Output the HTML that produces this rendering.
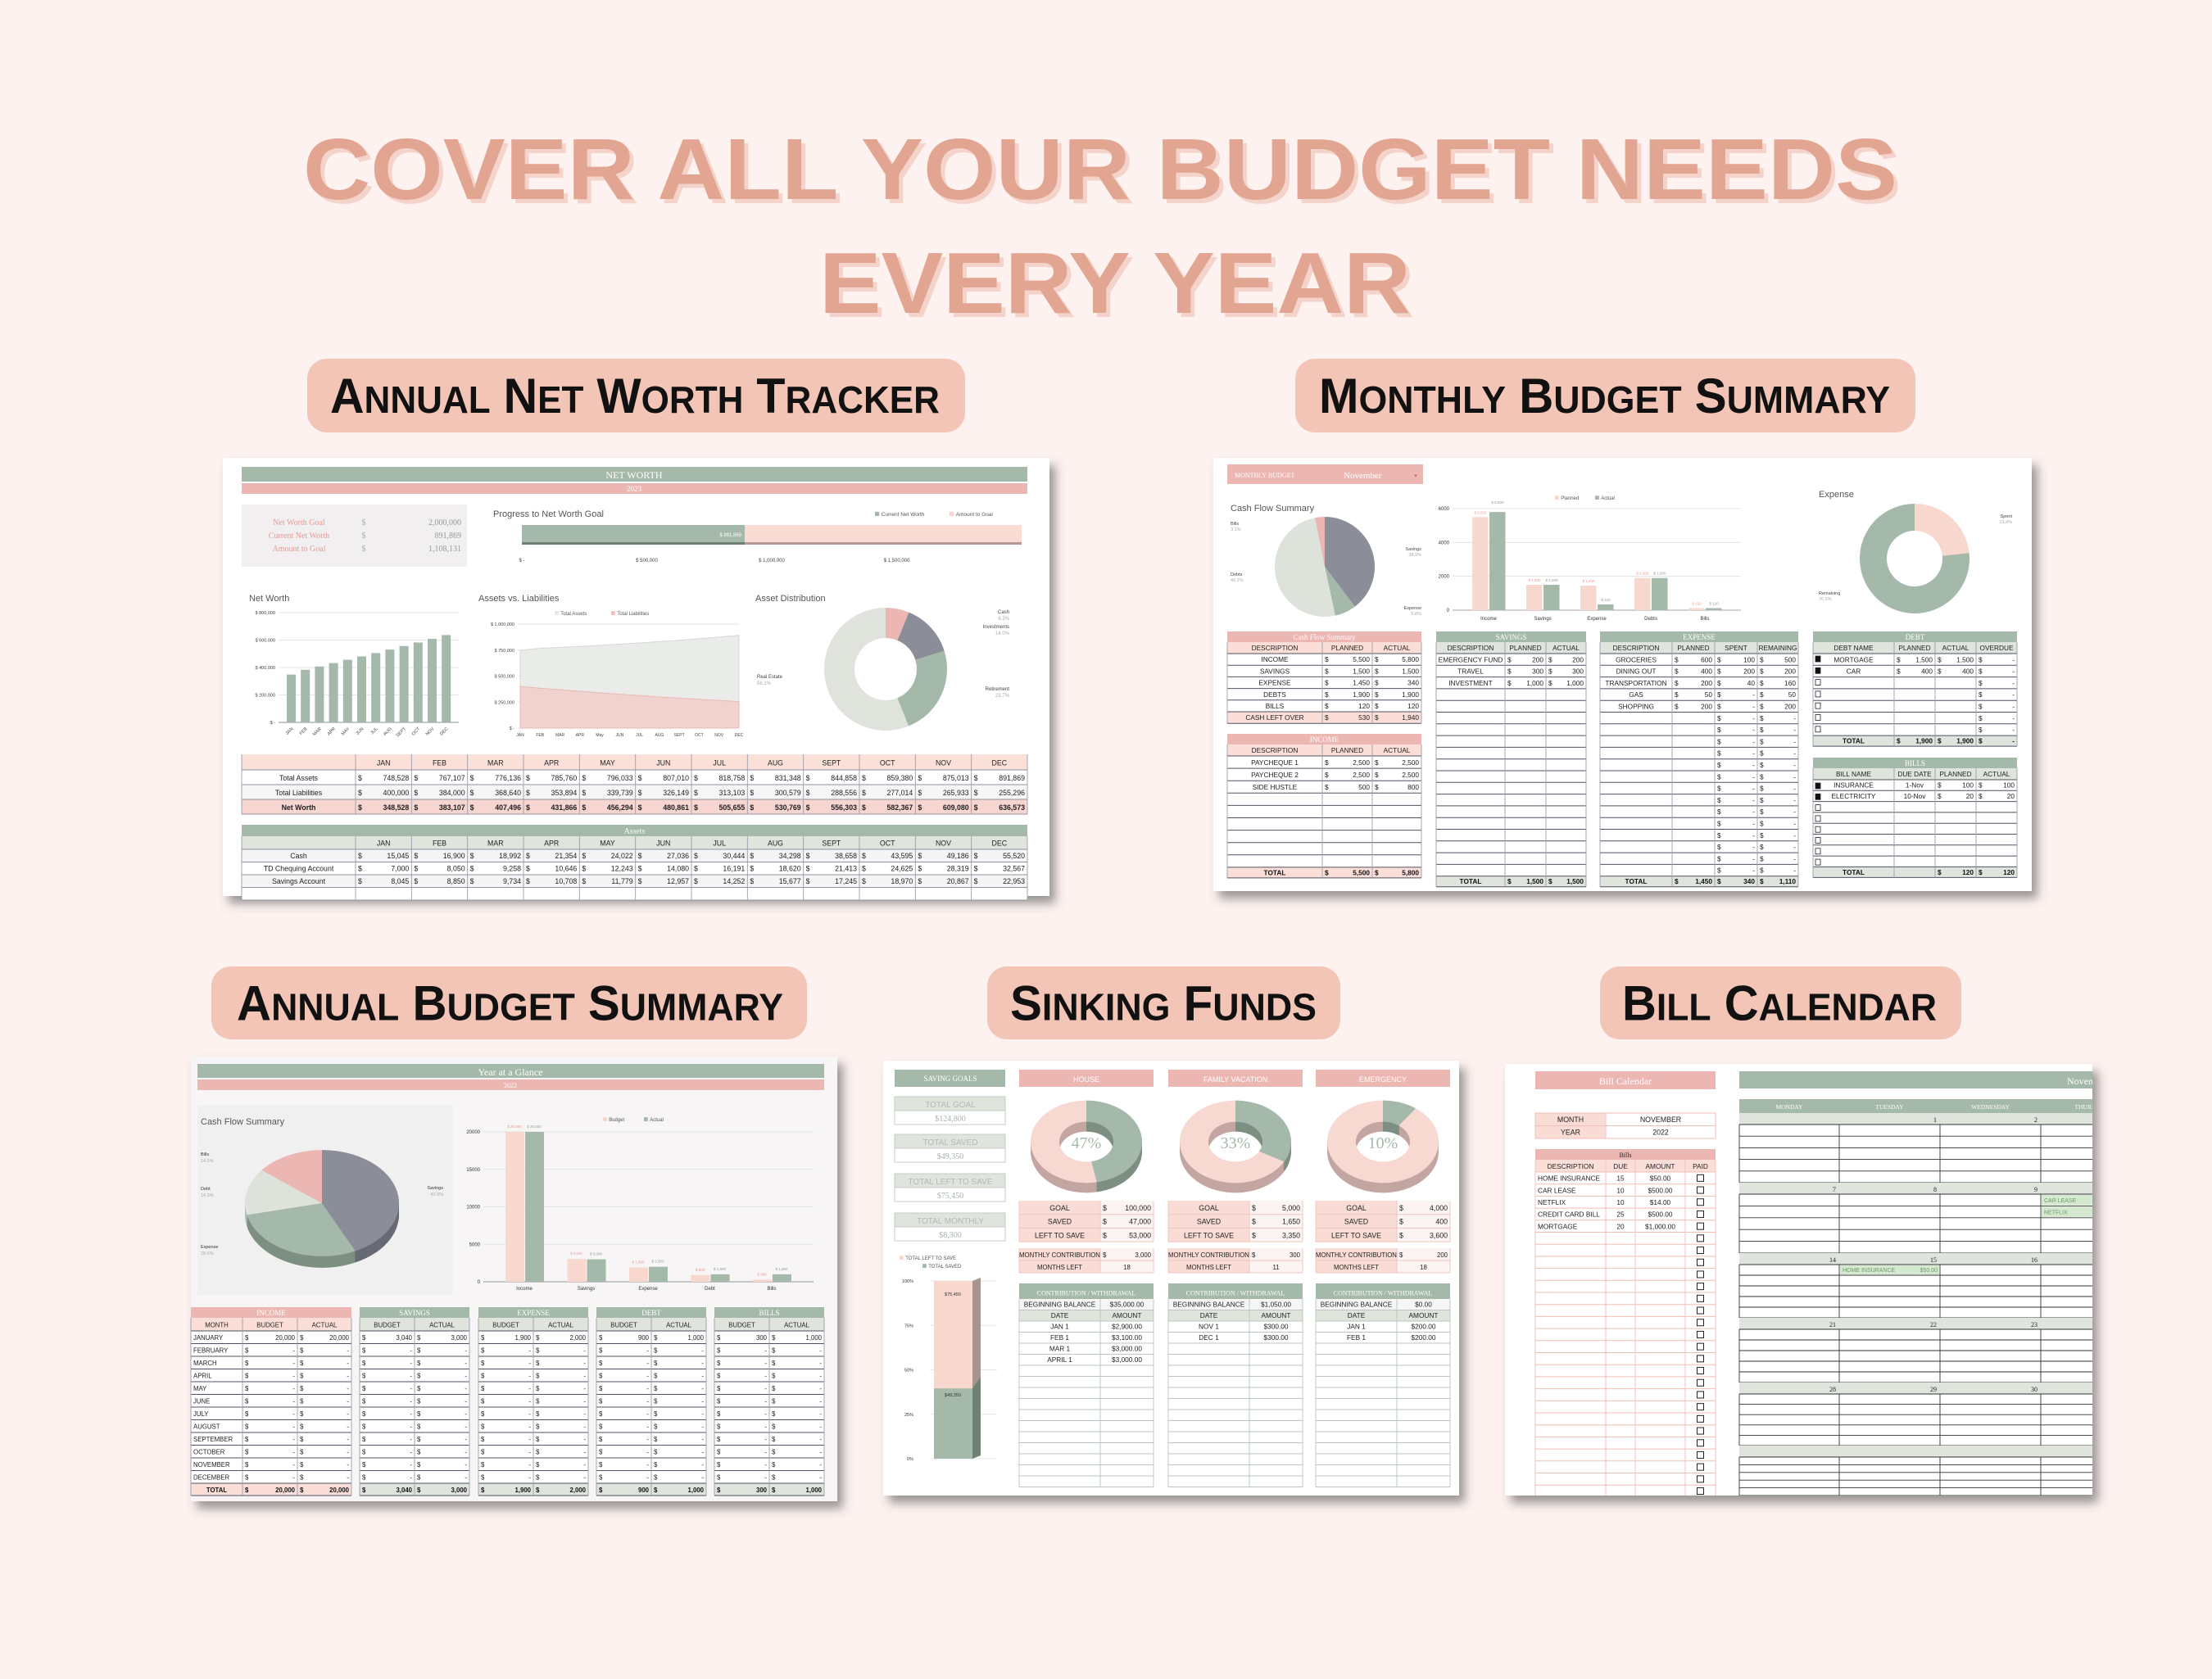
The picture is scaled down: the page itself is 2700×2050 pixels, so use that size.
<!DOCTYPE html>
<html><head><meta charset="utf-8"><title>Budget planner cover</title>
<style>
html,body{margin:0;padding:0;background:#fdf2ef;}
svg{display:block;}
text{font-family:"Liberation Sans",sans-serif;}
.nar{font-family:"Liberation Sans Narrow","Liberation Sans",sans-serif;}
.ser{font-family:"Liberation Serif",serif;}
</style></head>
<body>
<svg id="root" xmlns="http://www.w3.org/2000/svg" width="2700" height="2050" viewBox="0 0 2700 2050">
<defs>
<filter id="sh" x="-5%" y="-5%" width="115%" height="120%"><feDropShadow dx="7" dy="9" stdDeviation="6" flood-color="#4a4a4a" flood-opacity="0.55"/></filter>
<clipPath id="calclip"><rect x="1837" y="1299" width="717" height="527"/></clipPath>
</defs>
<rect x="0" y="0" width="2700" height="2050" fill="#fdf2ef"/>
</svg>
<script>
// ---------- data ----------
const nwMonths=['JAN','FEB','MAR','APR','MAY','JUN','JUL','AUG','SEPT','OCT','NOV','DEC'];
const nwAxisMonths=['JAN','FEB','MAR','APR','May','JUN','JUL','AUG','SEPT','OCT','NOV','DEC'];
const nwAssets=[748528,767107,776136,785760,796033,807010,818758,831348,844858,859380,875013,891869];
const nwLiab=[400000,384000,368640,353894,339739,326149,313103,300579,288556,277014,265933,255296];
const nwNet=[348528,383107,407496,431866,456294,480861,505655,530769,556303,582367,609080,636573];
const nwCash=[15045,16900,18992,21354,24022,27036,30444,34298,38658,43595,49186,55520];
const nwChequing=[7000,8050,9258,10646,12243,14080,16191,18620,21413,24625,28319,32567];
const nwSavings=[8045,8850,9734,10708,11779,12957,14252,15677,17245,18970,20867,22953];
const nwGoal=2000000, nwCurrent=891869;
const nwNetTicks=[0,200000,400000,600000,800000];
const nwAvlTicks=[0,250000,500000,750000,1000000];
const nwProgTicks=[0,500000,1000000,1500000];
const distLabels=['Cash','Investments','Retirement','Real Estate'];
const distValues=[6.2,14.0,23.7,56.1];

const mbCats=['Income','Savings','Expense','Debts','Bills'];
const mbPlanned=[5500,1500,1450,1900,120];
const mbActual=[5800,1500,340,1900,120];
const mbTicks=[0,2000,4000,6000];
const mbPieLabels=['Savings','Expense','Debts','Bills'];
const mbPieValues=[38.9,6.8,49.2,3.1];
const mbExpLabels=['Spent','Remaining'];
const mbExpValues=[23.4,76.6];

const abCats=['Income','Savings','Expense','Debt','Bills'];
const abBudget=[20000,3040,1900,900,300];
const abActual=[20000,3000,2000,1000,1000];
const abTicks=[0,5000,10000,15000,20000];
const abPieLabels=['Savings','Expense','Debt','Bills'];
const abPieValues=[42.9,28.6,14.3,14.3];

const sfNames=['HOUSE','FAMILY VACATION','EMERGENCY'];
const sfGoal=[100000,5000,4000];
const sfSaved=[47000,1650,400];
const sfMonthly=[3000,300,200];
const sfMonthsLeft=[18,11,18];
const sfBegin=['$35,000.00','$1,050.00','$0.00'];
const sfTotalSaved=49350, sfTotalLeft=75450;
const sfPctTicks=[0,25,50,75,100];

// ---------- helpers ----------
const NS='http://www.w3.org/2000/svg';
const svg=document.getElementById('root');
function mk(p,tag,a,t){const e=document.createElementNS(NS,tag);for(const k in a)e.setAttribute(k,a[k]);if(t!=null)e.textContent=t;p.appendChild(e);return e;}
function tx(p,x,y,t,fs,fill,anchor,cls){return mk(p,'text',{x:x,y:y,'font-size':fs,fill:fill,'text-anchor':anchor||'start',class:cls||''},t);}
const fmt=n=>n.toLocaleString('en-US');
const G='#a4b9a9',P='#ecb6b3',LP='#f9dcd5',SL='#8b8e99',LG='#dfe4dd',LT='#dde2da';
const DARK={'#a4b9a9':'#7c8f80','#f9dcd5':'#c6a9a5','#8b8e99':'#676a74','#dde2da':'#b3b8b0','#ecb6b3':'#c69693','#f8d9d2':'#c3a6a2'};
function arcPath(cx,cy,r,ri,a0,a1){
  const A=f=>f*2*Math.PI;const Pt=(rr,f)=>[cx+rr*Math.sin(A(f)),cy-rr*Math.cos(A(f))];
  if(a1-a0>=0.9999)a1=a0+0.9999;
  const lg=(a1-a0)>0.5?1:0;const p0=Pt(r,a0),p1=Pt(r,a1);
  if(ri>0){const p2=Pt(ri,a1),p3=Pt(ri,a0);return `M${p0[0]},${p0[1]}A${r},${r} 0 ${lg} 1 ${p1[0]},${p1[1]}L${p2[0]},${p2[1]}A${ri},${ri} 0 ${lg} 0 ${p3[0]},${p3[1]}Z`;}
  return `M${cx},${cy}L${p0[0]},${p0[1]}A${r},${r} 0 ${lg} 1 ${p1[0]},${p1[1]}Z`;
}
function pieSlices(g,cx,cy,r,ri,vals,cols,name,sy,depth){
  const tot=vals.reduce((a,b)=>a+b,0);
  sy=sy||1;depth=depth||0;
  for(let d=depth;d>=1;d-=1.5){
    const dg=mk(g,'g',{transform:`translate(${cx},${cy+d}) scale(1,${sy})`});
    
    
    let a=0;vals.forEach((v,i)=>{const p=mk(dg,'path',{d:arcPath(0,0,r,ri,a/tot,(a+v)/tot),fill:DARK[cols[i]]||'#888'});
      
      
      a+=v;});
  }
  const tg=mk(g,'g',{transform:`translate(${cx},${cy}) scale(1,${sy})`});
  
  
  let a=0;vals.forEach((v,i)=>{const p=mk(tg,'path',{d:arcPath(0,0,r,ri,a/tot,(a+v)/tot),fill:cols[i]});
    
    
    a+=v;});
}
function cell(g,xl,xr,ym,val,fs,col,bold,align){
  val=String(val);
  if(val.startsWith('$ ')){
    const a=tx(g,xl+3,ym,'$',fs,col,'start','nar');
    
    
    const b=tx(g,xr-3,ym,val.slice(2),fs,col,'end','nar');
    
    
    if(bold){a.setAttribute('font-weight','bold');b.setAttribute('font-weight','bold');}
  }else if(val!==''){
    const x=align==='left'?xl+3:(align==='right'?xr-3:(xl+xr)/2);
    const c=tx(g,x,ym,val,fs,col,align==='left'?'start':(align==='right'?'end':'middle'),'nar');
    
    
    if(bold)c.setAttribute('font-weight','bold');
  }
}
function table(p,name,xs,y0,s){
  const g=mk(p,'g',{});
  
  
  const x0=xs[0],x1=xs[xs.length-1];let y=y0;const fs=(s.fs||8)+0.8;const lines=[];
  if(s.title!=null){
    const r=mk(g,'rect',{x:x0,y:y,width:x1-x0,height:s.titleH,fill:s.titleFill});
    
    
    const t=tx(g,(x0+x1)/2,y+s.titleH*0.75,s.title,s.titleFs||fs+1,s.titleColor||'#fff','middle','ser');
    
    
    y+=s.titleH;
  }
  const gridTop=y;
  if(s.hdr){
    const r=mk(g,'rect',{x:x0,y:y,width:x1-x0,height:s.hdrH,fill:s.hdrFill});
    
    
    s.hdr.forEach((h,i)=>cell(g,xs[i],xs[i+1],y+s.hdrH*0.72,h,fs,'#222',false,'center'));
    y+=s.hdrH;lines.push(y);
  }
  const n=s.nRows||s.rows.length;
  for(let i=0;i<n;i++){
    const row=s.rows[i]||[];
    const rf=(s.rowFills&&s.rowFills[i])||s.rowFill;
    if(rf){const r=mk(g,'rect',{x:x0,y:y,width:x1-x0,height:s.rowH,fill:rf});
      
      }
    if(s.firstFill){const r=mk(g,'rect',{x:x0,y:y,width:xs[1]-x0,height:s.rowH,fill:s.firstFill});
      
      }
    row.forEach((v,j)=>cell(g,xs[j],xs[j+1],y+s.rowH*0.72,v,fs,'#222',s.boldRows&&s.boldRows[i],j===0?(s.firstAlign||'center'):'center'));
    if(s.check){const b=mk(g,'rect',{x:xs[s.check]+ (xs[s.check+1]-xs[s.check])/2-4,y:y+s.rowH/2-4,width:8,height:8,fill:(s.checked&&s.checked[i])?'#111':'#fff',stroke:'#222','stroke-width':1});
      
      }
    y+=s.rowH;lines.push(y);
  }
  if(s.total){
    const r=mk(g,'rect',{x:x0,y:y,width:x1-x0,height:s.totalH||s.rowH,fill:s.totalFill});
    
    
    s.total.forEach((v,j)=>cell(g,xs[j],xs[j+1],y+(s.totalH||s.rowH)*0.72,v,fs,'#111',true,'center'));
    y+=s.totalH||s.rowH;lines.push(y);
  }
  const lc=s.line||'#4f5262';
  lines.forEach(ly=>{const l=mk(g,'line',{x1:x0,x2:x1,y1:ly,y2:ly,stroke:lc,'stroke-width':s.lw||1});
    
    });
  xs.forEach((lx,i)=>{const l=mk(g,'line',{x1:lx,x2:lx,y1:gridTop,y2:y,stroke:s.vline||'#9a9dab','stroke-width':0.9});
    
    });
  return y;
}
function panel(name,x,y,w,h,fill){
  const r=mk(svg,'rect',{x:x,y:y,width:w,height:h,fill:fill||'#fff',filter:'url(#sh)'});
  
  
  return r;
}
function legendSq(p,x,y,col,label,fs){
  const s=mk(p,'rect',{x:x,y:y-fs*0.8,width:fs*0.8,height:fs*0.8,fill:col});
  
  
  const t=tx(p,x+fs*1.2,y,label,fs,'#555');
  
  
}

// ---------- title ----------
[['COVER ALL YOUR BUDGET NEEDS',370,243,1946,'title-line-1'],['EVERY YEAR',1000,382,722,'title-line-2']].forEach(l=>{
  const s=mk(svg,'text',{x:l[1]+5,y:l[2]+5,'font-size':106,'font-weight':'bold',fill:'#f4d3ca',textLength:l[3],lengthAdjust:'spacingAndGlyphs'},l[0]);
  
  
  const t=mk(svg,'text',{x:l[1],y:l[2],'font-size':106,'font-weight':'bold',fill:'#e1a592',textLength:l[3],lengthAdjust:'spacingAndGlyphs'},l[0]);
  
  
});
// ---------- pills ----------
const pills=[
 ['Annual net worth tracker',375,438,803,90,403,744,'pill-annual-net-worth'],
 ['Monthly budget summary',1581,438,757,90,1610,697,'pill-monthly-budget'],
 ['Annual budget summary',258,1180,727,89,289,667,'pill-annual-budget'],
 ['Sinking Funds',1205,1180,431,89,1233,374,'pill-sinking-funds'],
 ['Bill Calendar',1953,1180,441,89,1980,384,'pill-bill-calendar']];
pills.forEach(pl=>{
  const r=mk(svg,'rect',{x:pl[1],y:pl[2],width:pl[3],height:pl[4],rx:24,fill:'#f3c5b6'});
  
  
  const t=mk(svg,'text',{x:pl[5],y:pl[2]+pl[4]/2+21,'font-weight':'bold',fill:'#111',class:'nar',textLength:pl[6],lengthAdjust:'spacingAndGlyphs'});
  
  
  pl[0].split(' ').forEach((w,i)=>{
    mk(t,'tspan',{'font-size':60},(i?' ':'')+w[0].toUpperCase());
    mk(t,'tspan',{'font-size':46},w.slice(1).toUpperCase());
  });
});

// ================= PANEL 1: NET WORTH =================
panel('net-worth-sheet',272,559,1009,535);
(function(){
 const g=mk(svg,'g',{});
 
 
 let r=mk(g,'rect',{x:295,y:570,width:959,height:18,fill:G});
 
 
 let t=tx(g,774,584,'NET WORTH',12,'#fff','middle','ser');
 
 
 r=mk(g,'rect',{x:295,y:590,width:959,height:13,fill:P});
 
 
 t=tx(g,774,600,'2023',9,'#fff','middle','ser');
 
 
 r=mk(g,'rect',{x:295,y:616,width:275,height:76,fill:'#f1efef'});
 
 
 const gl=[['Net Worth Goal',nwGoal],['Current Net Worth',nwCurrent],['Amount to Goal',nwGoal-nwCurrent]];
 gl.forEach((v,i)=>{
   const a=tx(g,365,641+i*16,v[0],10,'#e79a94','middle','ser');
   
   
   const b=tx(g,444,641+i*16,'$',10,'#aaa','middle','ser');
   
   
   const c=tx(g,563,641+i*16,fmt(v[1]),10,'#999','end','ser');
   
   
 });
 t=tx(g,602,631,'Progress to Net Worth Goal',11,'#555');
 
 
 legendSq(g,1068,630,G,'Current Net Worth',6.5);
 legendSq(g,1159,630,'#f6d6cf','Amount to Goal',6.5);
 const px=v=>637+v/500000*152.5;
 r=mk(g,'rect',{x:px(0),y:641,width:px(nwGoal)-px(0),height:21,fill:'#fadcd5'});
 
 
 r=mk(g,'rect',{x:px(0),y:641,width:px(nwCurrent)-px(0),height:21,fill:G});
 
 
 r=mk(g,'rect',{x:px(0),y:662,width:px(nwCurrent)-px(0),height:3,fill:'#6f8173'});
 
 
 r=mk(g,'rect',{x:px(nwCurrent),y:662,width:px(nwGoal)-px(nwCurrent),height:3,fill:'#b49a96'});
 
 
 t=tx(g,px(nwCurrent)-4,655,'$ '+fmt(nwCurrent),6,'#fff','end');
 
 
 nwProgTicks.forEach(v=>{const a=tx(g,px(v),686,v?'$ '+fmt(v):'$ -',6,'#444','middle');
   
   });
 t=tx(g,304,734,'Net Worth',11,'#555');
 
 
 const ny=v=>882-v/800000*134;
 nwNetTicks.forEach(v=>{
   const l=mk(g,'line',{x1:340,x2:560,y1:ny(v),y2:ny(v),stroke:v?'#ddd':'#666','stroke-width':0.8});
   
   
   const a=tx(g,336,ny(v)+2,v?'$ '+fmt(v):'$ -',5.5,'#444','end');
   
   });
 nwNet.forEach((v,i)=>{
   const bx=350+i*17.2;
   const b=mk(g,'rect',{x:bx,y:ny(v),width:11,height:ny(0)-ny(v),fill:G});
   
   
   const a=mk(g,'text',{x:bx+8,y:890,'font-size':5.5,fill:'#444','text-anchor':'end',transform:`rotate(-45 ${bx+8} 890)`},nwMonths[i]);
   
   });
 t=tx(g,584,734,'Assets vs. Liabilities',11,'#555');
 
 
 legendSq(g,677,751,'#e5e7e3','Total Assets',6);
 legendSq(g,746,751,'#efc1bd','Total Liabilities',6);
 const ay=v=>889-v/1e6*127, ax=i=>635+i*(267/11);
 nwAvlTicks.forEach(v=>{
   const l=mk(g,'line',{x1:632,x2:902,y1:ay(v),y2:ay(v),stroke:'#ddd','stroke-width':0.8});
   
   
   const a=tx(g,628,ay(v)+2,v?'$ '+fmt(v):'$ -',5.5,'#444','end');
   
   });
 let d='M'+ax(0)+','+ay(0);nwAssets.forEach((v,i)=>d+='L'+ax(i)+','+ay(v));d+='L'+ax(11)+','+ay(0)+'Z';
 let pa=mk(g,'path',{d:d,fill:'#eaece9',stroke:'#d5d8d4','stroke-width':1});
 
 
 d='M'+ax(0)+','+ay(0);nwLiab.forEach((v,i)=>d+='L'+ax(i)+','+ay(v));d+='L'+ax(11)+','+ay(0)+'Z';
 pa=mk(g,'path',{d:d,fill:'#f0d3cf',stroke:'#e8b9b4','stroke-width':1});
 
 
 nwAxisMonths.forEach((m,i)=>{const a=tx(g,ax(i),899,m,5,'#444','middle');
   
   });
 t=tx(g,922,734,'Asset Distribution',11,'#555');
 
 
 pieSlices(g,1081,817,75,38,distValues,[P,SL,G,'#dfe3dc'],'asset-distribution');
 const dl=[[1232,749,'end'],[1232,767,'end'],[1232,843,'end'],[924,828,'start']];
 distLabels.forEach((l,i)=>{
   const a=tx(g,dl[i][0],dl[i][1],l,6,'#444',dl[i][2]);
   
   
   const b=tx(g,dl[i][0],dl[i][1]+8,distValues[i].toFixed(1)+'%',6,'#aaa',dl[i][2]);
   
   });
 const xs=[295,434];for(let i=1;i<=12;i++)xs.push(434+i*(820/12));
 table(g,'net-worth-table',xs,921,{hdr:[''].concat(nwMonths),hdrH:19,hdrFill:'#fbe0da',rowH:18,fs:8,
   rows:[['Total Assets'].concat(nwAssets.map(v=>'$ '+fmt(v))),['Total Liabilities'].concat(nwLiab.map(v=>'$ '+fmt(v))),['Net Worth'].concat(nwNet.map(v=>'$ '+fmt(v)))],
   rowFills:['#fff','#f6f6f6','#f7d5d0'],boldRows:[0,0,1],line:'#8f92a0'});
 table(g,'assets-table',xs,1007,{title:'Assets',titleH:14,titleFill:G,hdr:[''].concat(nwMonths),hdrH:16,hdrFill:LG,rowH:15.5,fs:8,
   rows:[['Cash'].concat(nwCash.map(v=>'$ '+fmt(v))),['TD Chequing Account'].concat(nwChequing.map(v=>'$ '+fmt(v))),['Savings Account'].concat(nwSavings.map(v=>'$ '+fmt(v))),[]],
   rowFills:['#f5f5f5','#fff','#f5f5f5','#fff'],line:'#8f92a0'});
})();

// ================= PANEL 2: MONTHLY =================
panel('monthly-budget-sheet',1481,559,999,529);
(function(){
 const g=mk(svg,'g',{});
 
 
 let r=mk(g,'rect',{x:1498,y:567,width:239,height:24,fill:P});
 
 
 let t=tx(g,1507,583,'MONTHLY BUDGET',8,'#fff','start','ser');
 
 
 t=tx(g,1640,584,'November',11,'#fff','start','ser');
 
 
 t=tx(g,1728,583,'▾',7,'#c66','middle');
 
 
 t=tx(g,1502,624,'Cash Flow Summary',11,'#555');
 
 
 pieSlices(g,1617,692,61,0,mbPieValues,[SL,G,LT,P],'cash-flow-pie');
 const pl=[[1735,672,'end'],[1735,744,'end'],[1502,703,'start'],[1502,641,'start']];
 mbPieLabels.forEach((l,i)=>{
   const a=tx(g,pl[i][0],pl[i][1],l,5.5,'#444',pl[i][2]);
   
   
   const b=tx(g,pl[i][0],pl[i][1]+7,mbPieValues[i]+'%',5.5,'#aaa',pl[i][2]);
   
   });
 const by=v=>745-v/6000*124;
 mbTicks.forEach(v=>{
   const l=mk(g,'line',{x1:1773,x2:2125,y1:by(v),y2:by(v),stroke:v?'#ddd':'#888','stroke-width':0.8});
   
   
   const a=tx(g,1769,by(v)+2,String(v),6,'#333','end');
   
   });
 legendSq(g,1898,610,'#f8d7cf','Planned',6);
 legendSq(g,1947,610,G,'Actual',6);
 mbCats.forEach((c,i)=>{
   const bx=1797+i*66;
   const b1=mk(g,'rect',{x:bx,y:by(mbPlanned[i]),width:19.5,height:by(0)-by(mbPlanned[i]),fill:'#f8d7cf'});
   
   
   const b2=mk(g,'rect',{x:bx+21,y:by(mbActual[i]),width:19.5,height:by(0)-by(mbActual[i]),fill:G});
   
   
   const l1=tx(g,bx+10,by(mbPlanned[i])-4,'$ '+fmt(mbPlanned[i]),4.5,'#e79a94','middle');
   
   
   const l2=tx(g,bx+31,by(mbActual[i])-(i===0?10:4),'$ '+fmt(mbActual[i]),4.5,'#8fa593','middle');
   
   
   const cl=tx(g,bx+20,757,c,6,'#333','middle');
   
   });
 t=tx(g,2220,607,'Expense',11,'#555');
 
 
 pieSlices(g,2337,682,67,34,mbExpValues,['#f8d7cf',G],'expense-donut');
 t=tx(g,2456,632,'Spent',5.5,'#444','end');
 
 
 t=tx(g,2456,639,mbExpValues[0]+'%',5.5,'#aaa','end');
 
 
 t=tx(g,2220,726,'Remaining',5.5,'#444');
 
 
 t=tx(g,2220,733,mbExpValues[1]+'%',5.5,'#aaa');
 
 
 const c={titleH:13,hdrH:14,fs:7.5,titleFs:9};
 table(g,'cash-flow-table',[1498,1614,1675,1735],771,Object.assign({},c,{title:'Cash Flow Summary',titleFill:P,hdr:['DESCRIPTION','PLANNED','ACTUAL'],hdrFill:'#fbded8',rowH:14.2,
   rows:[['INCOME','$ 5,500','$ 5,800'],['SAVINGS','$ 1,500','$ 1,500'],['EXPENSE','$ 1,450','$ 340'],['DEBTS','$ 1,900','$ 1,900'],['BILLS','$ 120','$ 120'],['CASH LEFT OVER','$ 530','$ 1,940']],
   rowFills:[0,0,0,0,0,'#fbded8']}));
 table(g,'income-table',[1498,1614,1675,1735],896,Object.assign({},c,{title:'INCOME',titleFill:P,hdr:['DESCRIPTION','PLANNED','ACTUAL'],hdrFill:'#fbded8',rowH:15.1,nRows:9,
   rows:[['PAYCHEQUE 1','$ 2,500','$ 2,500'],['PAYCHEQUE 2','$ 2,500','$ 2,500'],['SIDE HUSTLE','$ 500','$ 800']],total:['TOTAL','$ 5,500','$ 5,800'],totalFill:'#fbded8',totalH:13}));
 table(g,'savings-table',[1753,1837,1887,1936],771,Object.assign({},c,{title:'SAVINGS',titleFill:G,hdr:['DESCRIPTION','PLANNED','ACTUAL'],hdrFill:LG,rowH:14.3,nRows:19,
   rows:[['EMERGENCY FUND','$ 200','$ 200'],['TRAVEL','$ 300','$ 300'],['INVESTMENT','$ 1,000','$ 1,000']],total:['TOTAL','$ 1,500','$ 1,500'],totalFill:LG,totalH:13}));
 const exRows=[['GROCERIES','$ 600','$ 100','$ 500'],['DINING OUT','$ 400','$ 200','$ 200'],['TRANSPORTATION','$ 200','$ 40','$ 160'],['GAS','$ 50','$ -','$ 50'],['SHOPPING','$ 200','$ -','$ 200']];
 for(let i=0;i<14;i++)exRows.push(['','','$ -','$ -']);
 table(g,'expense-table',[1953,2041,2093,2145,2195],771,Object.assign({},c,{title:'EXPENSE',titleFill:G,hdr:['DESCRIPTION','PLANNED','SPENT','REMAINING'],hdrFill:LG,rowH:14.3,
   rows:exRows,total:['TOTAL','$ 1,450','$ 340','$ 1,110'],totalFill:LG,totalH:13}));
 table(g,'debt-table',[2213,2312,2362,2412,2462],771,Object.assign({},c,{title:'DEBT',titleFill:G,hdr:['DEBT NAME','PLANNED','ACTUAL','OVERDUE'],hdrFill:LG,rowH:14.3,
   rows:[['MORTGAGE','$ 1,500','$ 1,500','$ -'],['CAR','$ 400','$ 400','$ -'],['','','','$ -'],['','','','$ -'],['','','','$ -'],['','','','$ -'],['','','','$ -']],
   total:['TOTAL','$ 1,900','$ 1,900','$ -'],totalFill:LG,totalH:13}));
 table(g,'bills-table',[2213,2312,2362,2412,2462],925,Object.assign({},c,{title:'BILLS',titleFill:G,hdr:['BILL NAME','DUE DATE','PLANNED','ACTUAL'],hdrFill:LG,rowH:13.3,nRows:8,
   rows:[['INSURANCE','1-Nov','$ 100','$ 100'],['ELECTRICITY','10-Nov','$ 20','$ 20']],total:['TOTAL','','$ 120','$ 120'],totalFill:LG,totalH:13}));
 for(let i=0;i<7;i++){const b=mk(g,'rect',{x:2216,y:801+i*14.3,width:6,height:7,fill:i<2?'#111':'#fff',stroke:'#222','stroke-width':0.8});
   
   }
 for(let i=0;i<8;i++){const b=mk(g,'rect',{x:2216,y:956+i*13.3,width:6,height:7,fill:i<2?'#111':'#fff',stroke:'#222','stroke-width':0.8});
   
   }
})();

// ================= PANEL 3: ANNUAL BUDGET =================
panel('annual-budget-sheet',233,1290,789,543,'#f7f5f5');
(function(){
 const g=mk(svg,'g',{});
 
 
 let r=mk(g,'rect',{x:241,y:1299,width:765,height:17,fill:G});
 
 
 let t=tx(g,623,1313,'Year at a Glance',12,'#fff','middle','ser');
 
 
 r=mk(g,'rect',{x:241,y:1318,width:765,height:13,fill:P});
 
 
 t=tx(g,623,1328,'2022',8,'#fff','middle','ser');
 
 
 r=mk(g,'rect',{x:241,y:1349,width:312,height:232,fill:'#f1f0f0'});
 
 
 t=tx(g,245,1373,'Cash Flow Summary',11,'#555');
 
 
 pieSlices(g,393,1469,94,0,abPieValues,[SL,G,LT,P],'annual-cash-flow-pie',0.69,14);
 const pl=[[541,1452,'end'],[245,1524,'start'],[245,1453,'start'],[245,1411,'start']];
 abPieLabels.forEach((l,i)=>{
   const a=tx(g,pl[i][0],pl[i][1],l,5.5,'#333',pl[i][2]);
   
   
   const b=tx(g,pl[i][0],pl[i][1]+8,abPieValues[i]+'%',5.5,'#aaa',pl[i][2]);
   
   });
 const by=v=>1565-v/20000*183;
 abTicks.forEach(v=>{
   const l=mk(g,'line',{x1:590,x2:993,y1:by(v),y2:by(v),stroke:v?'#ddd':'#777','stroke-width':0.8});
   
   
   const a=tx(g,586,by(v)+2,String(v),6,'#333','end');
   
   });
 legendSq(g,736,1369,'#f8d7cf','Budget',6);
 legendSq(g,786,1369,G,'Actual',6);
 abCats.forEach((c,i)=>{
   const bx=617+i*75.5;
   const b1=mk(g,'rect',{x:bx,y:by(abBudget[i]),width:23,height:by(0)-by(abBudget[i]),fill:'#f8d7cf'});
   
   
   const b2=mk(g,'rect',{x:bx+24,y:by(abActual[i]),width:23,height:by(0)-by(abActual[i]),fill:G});
   
   
   const l1=tx(g,bx+11,by(abBudget[i])-5,'$ '+fmt(abBudget[i]),4.5,'#e79a94','middle');
   
   
   const l2=tx(g,bx+35,by(abActual[i])-5,'$ '+fmt(abActual[i]),4.5,'#8fa593','middle');
   
   
   const cl=tx(g,bx+23,1575,c,6,'#333','middle');
   
   });
 const months=['JANUARY','FEBRUARY','MARCH','APRIL','MAY','JUNE','JULY','AUGUST','SEPTEMBER','OCTOBER','NOVEMBER','DECEMBER'];
 const c={titleH:13,hdrH:16,rowH:15.5,fs:7,titleFs:9,totalH:15};
 const mkRows=(b,a,lab)=>months.map((m,i)=>(lab?[m]:[]).concat(i===0?['$ '+fmt(b),'$ '+fmt(a)]:['$ -','$ -']));
 table(g,'annual-income-table',[233,296,363,429],1596,Object.assign({},c,{title:'INCOME',titleFill:P,hdr:['MONTH','BUDGET','ACTUAL'],hdrFill:'#fbded8',rows:mkRows(20000,20000,true),firstAlign:'left',rowFill:'#fff',
   total:['TOTAL','$ 20,000','$ 20,000'],totalFill:'#fbded8'}));
 const sets=[['savings',439,3040,3000],['expense',584,1900,2000],['debt',728,900,1000],['bills',872,300,1000]];
 sets.forEach(s=>{
   table(g,'annual-'+s[0]+'-table',[s[1],s[1]+67,s[1]+134],1596,Object.assign({},c,{title:s[0].toUpperCase(),titleFill:G,hdr:['BUDGET','ACTUAL'],hdrFill:LG,rows:mkRows(s[2],s[3],false),rowFill:'#fff',
     total:['$ '+fmt(s[2]),'$ '+fmt(s[3])],totalFill:LG}));
 });
})();

// ================= PANEL 4: SINKING FUNDS =================
panel('sinking-funds-sheet',1078,1295,703,531);
(function(){
 const g=mk(svg,'g',{});
 
 
 let r=mk(g,'rect',{x:1092,y:1306,width:135,height:21,fill:G});
 
 
 let t=tx(g,1160,1320,'SAVING GOALS',9,'#fff','middle','ser');
 
 
 const sums=[['TOTAL GOAL','$124,800',1339],['TOTAL SAVED','$'+fmt(sfTotalSaved),1385],['TOTAL LEFT TO SAVE','$'+fmt(sfTotalLeft),1433],['TOTAL MONTHLY','$8,300',1481]];
 sums.forEach(s=>{
   const a=mk(g,'rect',{x:1092,y:s[2],width:135,height:17,fill:LG,stroke:'#c5ccc4','stroke-width':1});
   
   
   const b=mk(g,'rect',{x:1092,y:s[2]+17,width:135,height:17,fill:'#fff',stroke:'#c5ccc4','stroke-width':1});
   
   
   const c1=tx(g,1160,s[2]+13,s[0],10,'#b4bab3','middle','nar');
   
   
   const c2=tx(g,1160,s[2]+30,s[1],10,'#a7b4aa','middle','ser');
   
   });
 legendSq(g,1098,1538,'#f8d7cf','TOTAL LEFT TO SAVE',6);
 legendSq(g,1126,1548,G,'TOTAL SAVED',6);
 const sy=f=>1781-f/100*217;
 sfPctTicks.forEach(v=>{
   const l=mk(g,'line',{x1:1135,x2:1217,y1:sy(v),y2:sy(v),stroke:'#ddd','stroke-width':0.8});
   
   
   const a=tx(g,1115,sy(v)+2,v+'%',5.5,'#333','end');
   
   });
 const tot=sfTotalSaved+sfTotalLeft, fs=sfTotalSaved/tot*100;
 let s=mk(g,'path',{d:`M1187,${sy(100)}l10,-4V${sy(0)-4}l-10,4Z`,fill:'#a79391'});
 
 
 s=mk(g,'path',{d:`M1187,${sy(fs)}l10,-14V${sy(0)-4}l-10,4Z`,fill:'#6f8272'});
 
 
 r=mk(g,'rect',{x:1140,y:sy(100),width:47,height:sy(fs)-sy(100),fill:'#f8d7cf'});
 
 
 r=mk(g,'rect',{x:1140,y:sy(fs),width:47,height:sy(0)-sy(fs),fill:G});
 
 
 t=tx(g,1163,sy(100)+18,'$'+fmt(sfTotalLeft),5.5,'#333','middle');
 
 
 t=tx(g,1163,sy(fs)+10,'$'+fmt(sfTotalSaved),5.5,'#333','middle');
 
 
 const xs0=[1244,1426,1606];
 const contrib=[[['JAN 1','$2,900.00'],['FEB 1','$3,100.00'],['MAR 1','$3,000.00'],['APRIL 1','$3,000.00']],[['NOV 1','$300.00'],['DEC 1','$300.00']],[['JAN 1','$200.00'],['FEB 1','$200.00']]];
 sfNames.forEach((nm,i)=>{
   const x0=xs0[i];
   const h=mk(g,'rect',{x:x0,y:1306,width:164,height:21,fill:P});
   
   
   const ht=tx(g,x0+82,1321,nm,9,'#fff','middle','nar');
   
   
   const pct=sfSaved[i]/sfGoal[i]*100;
   pieSlices(g,x0+82,1394,68,33,[pct,100-pct],[G,'#f8d9d2'],'goal-donut-'+i,0.74,12);
   const pt=tx(g,x0+82,1402,Math.round(pct)+'%',20,'#a4b9a9','middle','ser');
   
   
   const xs=[x0,x0+99,x0+164];
   table(g,'goal-table-'+i,xs,1466,{rowH:16.7,fs:8,firstFill:LP,rowFill:'#fbf4f2',line:'#f0c3bd',vline:'#f0c3bd',
     rows:[['GOAL','$ '+fmt(sfGoal[i])],['SAVED','$ '+fmt(sfSaved[i])],['LEFT TO SAVE','$ '+fmt(sfGoal[i]-sfSaved[i])]]});
   table(g,'contribution-table-'+i,xs,1524,{rowH:15,fs:7,firstFill:LP,rowFill:'#fbf4f2',line:'#f0c3bd',vline:'#f0c3bd',
     rows:[['MONTHLY CONTRIBUTION','$ '+fmt(sfMonthly[i])],['MONTHS LEFT',String(sfMonthsLeft[i])]]});
   const rows=[['BEGINNING BALANCE',sfBegin[i]],['DATE','AMOUNT']].concat(contrib[i]);
   table(g,'withdrawal-table-'+i,xs,1567,{title:'CONTRIBUTION / WITHDRAWAL',titleH:19,titleFill:G,titleFs:8,rowH:13.5,fs:7.5,nRows:17,rows:rows,
     rowFills:['#f6f6f6',LG],line:'#b9c6bb',vline:'#b9c6bb'});
 });
})();

// ================= PANEL 5: BILL CALENDAR =================
panel('bill-calendar-sheet',1837,1299,717,527);
(function(){
 const g=mk(svg,'g',{'clip-path':'url(#calclip)'});
 
 
 let r=mk(g,'rect',{x:1874,y:1308,width:220,height:22,fill:P});
 
 
 let t=tx(g,1984,1324,'Bill Calendar',12,'#fff','middle','ser');
 
 
 table(g,'month-year-table',[1874,1960,2094],1359,{rowH:15.5,fs:8,firstFill:LP,line:'#f0bfb9',vline:'#f0bfb9',rows:[['MONTH','NOVEMBER'],['YEAR','2022']]});
 r=mk(g,'rect',{x:1874,y:1359,width:220,height:31,fill:'none',stroke:'#f0bfb9','stroke-width':1});
 
 
 const bills=[['HOME INSURANCE','15','$50.00'],['CAR LEASE','10','$500.00'],['NETFLIX','10','$14.00'],['CREDIT CARD BILL','25','$500.00'],['MORTGAGE','20','$1,000.00']];
 table(g,'bills-list-table',[1874,1960,1996,2057,2094],1403,{title:'Bills',titleH:13,titleFill:P,titleColor:'#222',titleFs:8,hdr:['DESCRIPTION','DUE','AMOUNT','PAID'],hdrH:15,hdrFill:'#fbded8',
   rowH:14.7,nRows:27,fs:7.5,rows:bills.map(b=>[b[0],b[1],b[2],'']),firstAlign:'left',check:3,line:'#f0bfb9',vline:'#f0bfb9'});
 r=mk(g,'rect',{x:2123,y:1308,width:440,height:21,fill:G});
 
 
 t=tx(g,2523,1324,'November',12,'#fff','start','ser');
 
 
 r=mk(g,'rect',{x:2123,y:1342,width:440,height:17,fill:G});
 
 
 const cx=[2123,2245,2368,2491,2614];
 ['MONDAY','TUESDAY','WEDNESDAY','THURSDAY'].forEach((d,i)=>{const a=tx(g,(cx[i]+cx[i+1])/2,1354,d,7.5,'#fff','middle','ser');
   
   });
 const weeks=[['','1','2',''],['7','8','9',''],['14','15','16',''],['21','22','23',''],['28','29','30',''],['','','','']];
 const wy=[1359,1444,1530,1609,1688,1765];
 weeks.forEach((w,wi)=>{
   const y0=wy[wi];
   const d=mk(g,'rect',{x:2123,y:y0,width:440,height:14,fill:LG});
   
   
   w.forEach((n,ci)=>{if(n){const a=tx(g,cx[ci+1]-4,y0+11,n,8,'#222','end','ser');
     
     }});
   const yEnd=wi<5?wy[wi+1]:1826;
   const rh=(yEnd-y0-14)/5;
   for(let k=0;k<=5;k++){const l=mk(g,'line',{x1:2123,x2:2563,y1:y0+14+k*rh,y2:y0+14+k*rh,stroke:'#333','stroke-width':0.9});
     
     }
   cx.forEach(x=>{const l=mk(g,'line',{x1:x,x2:x,y1:y0+14,y2:yEnd,stroke:'#333','stroke-width':0.9});
     
     });
 });
 const ev=[[1,3,0,'CAR LEASE',''],[1,3,1,'NETFLIX',''],[2,1,0,'HOME INSURANCE','$50.00']];
 ev.forEach(e=>{
   const y0=wy[e[0]]+14, rh=(wy[e[0]+1]-wy[e[0]]-14)/5;
   const b=mk(g,'rect',{x:cx[e[1]]+1,y:y0+e[2]*rh+1,width:121,height:rh-2,fill:'#d5e9d0'});
   
   
   const a=tx(g,cx[e[1]]+4,y0+e[2]*rh+rh*0.7,e[3],7,'#6f9a6a','start','nar');
   
   
   if(e[4]){const c=tx(g,cx[e[1]+1]-3,y0+e[2]*rh+rh*0.7,e[4],7,'#6f9a6a','end','nar');
     
     }
 });
})();
</script>
</body></html>
